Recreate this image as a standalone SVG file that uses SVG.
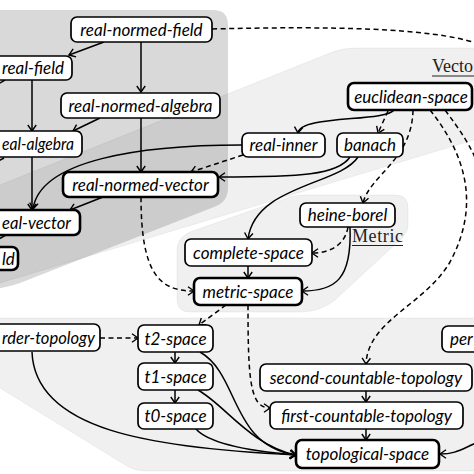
<svg xmlns="http://www.w3.org/2000/svg" width="474" height="474" viewBox="0 0 474 474">
<style>
.n{fill:#fff;stroke:#000;stroke-width:1.7}
.b{stroke-width:2.6}
.t{font-family:Lato,"Open Sans",sans-serif;font-style:italic;font-size:17px;fill:#000}
.c{text-anchor:middle}
.e{text-anchor:end}
.l{fill:none;stroke:#000;stroke-width:1.5;marker-end:url(#a)}
.d{stroke-dasharray:5 3.5}
.s{fill:none;stroke:#000;stroke-width:1.5}
.r{font-family:"Liberation Serif",serif;font-size:18px;fill:#222}
.u{stroke:#222;stroke-width:1}
</style>
<defs>
<marker id="a" markerUnits="userSpaceOnUse" orient="auto" refX="0" refY="0" markerWidth="14" markerHeight="14" viewBox="-8 -7 9 14" overflow="visible">
<path d="M-6,-4.2 Q-1.8,-1.2 0,0 Q-1.8,1.2 -6,4.2" fill="none" stroke="#000" stroke-width="1.4"/>
</marker>
</defs>
<g id="regions">
<path d="M-20,10 L213,10 Q228,10 228,25 L228,188 Q228,202 214,207 L20,283 Q0,290 -20,290 Z" fill="#000" fill-opacity="0.15"/>
<path d="M-20,193 L330,53 Q342,48 356,48 L490,48 L490,135 L-20,289 Z" fill="#000" fill-opacity="0.06" stroke="#000" stroke-opacity="0.05"/>
<path d="M177,250 Q177,238 190,232 L290,197 Q296,195 305,195 L395,195 Q408,195 408,208 L408,225 Q408,232 402,238 L335,300 Q320,312 300,312 L190,312 Q177,312 177,299 Z" fill="#000" fill-opacity="0.06" stroke="#000" stroke-opacity="0.05"/>
<path d="M-20,318 L490,318 L490,471 L145,471 Q135,471 127,466 L0,388 L-20,376 Z" fill="#000" fill-opacity="0.06" stroke="#000" stroke-opacity="0.05"/>
<text class="r" x="432" y="72">Vecto</text>
<line class="u" x1="432" y1="76" x2="474" y2="76"/>
<text class="r" x="352" y="242" textLength="51">Metric</text>
<line class="u" x1="352" y1="245.5" x2="403" y2="245.5"/>
</g>
<g id="connectors">
<path class="l" d="M104,42 L69,55"/>
<path class="l" d="M141,42 L141,92"/>
<path class="l" d="M32,80 L32,131"/>
<path class="l" d="M100,118 L73,131"/>
<path class="l" d="M141,118 L141,172"/>
<path class="l" d="M32,157 L32,210"/>
<path class="l" d="M103,197 L70,210"/>
<path class="l" d="M242,145 C140,145 40,160 33,209"/>
<path class="s d" d="M212,29 C330,26 430,28 476,43"/>
<path class="l" d="M394,110 C385,122 300,115 298,133"/>
<path class="l d" d="M388,111 L378,133"/>
<path class="l d" d="M413,110 C412,160 370,175 363,203"/>
<path class="l d" d="M430,110 C470,160 478,210 450,262 C425,305 368,320 366,364"/>
<path class="s d" d="M445,110 C460,130 470,145 476,160"/>
<path class="l" d="M358,157 C340,185 255,185 248,239"/>
<path class="l" d="M350,157 C338,175 300,177 219,177"/>
<path class="l d" d="M243,155 L191,172"/>
<path class="l" d="M248,266 L248,278"/>
<path class="l d" d="M348,227 C345,245 330,253 312,253"/>
<path class="l" d="M350,227 C352,280 335,291 302,291"/>
<path class="l d" d="M141,197 C141,275 160,291 194,291"/>
<path class="l d" d="M226,305 L199,325"/>
<path class="l d" d="M248,305 C248,380 250,408 270,408"/>
<path class="l d" d="M100,338 L138,338"/>
<path class="l" d="M175,352 L175,363"/>
<path class="l" d="M175,390 L175,403"/>
<path class="l" d="M32,352 C35,430 150,448 296,455"/>
<path class="l" d="M200,352 C240,375 230,445 296,455"/>
<path class="l" d="M198,390 C225,405 250,445 296,455"/>
<path class="l" d="M196,429 C210,445 260,452 296,455"/>
<path class="l" d="M366,391 L366,402"/>
<path class="l" d="M366,429 L366,440"/>
<path class="l" d="M476,443 C460,450 455,454 440,454"/>
<path class="s" d="M5,80 L-5,86"/>
<path class="s" d="M4,158 L-5,163"/>
<path class="s" d="M6,235 L-5,241"/>
</g>
<g id="real-normed-field"><rect class="n" x="71" y="17" width="141" height="25" rx="6"/><text class="t c" x="141.5" y="35.5">real-normed-field</text></g>
<g id="real-field"><rect class="n" x="-10" y="56" width="82" height="24" rx="6"/><text class="t" x="2" y="74" textLength="62" lengthAdjust="spacingAndGlyphs">real-field</text></g>
<g id="real-normed-algebra"><rect class="n" x="61" y="93" width="159" height="25" rx="6"/><text class="t c" x="140.5" y="111.5">real-normed-algebra</text></g>
<g id="real-algebra"><rect class="n" x="-10" y="131" width="92" height="26" rx="6"/><text class="t" x="2" y="150" textLength="72" lengthAdjust="spacingAndGlyphs">eal-algebra</text></g>
<g id="real-normed-vector"><rect class="n b" x="63" y="172" width="155" height="25" rx="6"/><text class="t c" x="140.5" y="190.5">real-normed-vector</text></g>
<g id="real-vector"><rect class="n b" x="-10" y="210" width="90" height="25" rx="6"/><text class="t" x="2" y="228.5" textLength="69" lengthAdjust="spacingAndGlyphs">eal-vector</text></g>
<g id="ld"><rect class="n b" x="-10" y="247" width="28" height="23" rx="6"/><text class="t" x="2" y="264.5">ld</text></g>
<g id="euclidean-space"><rect class="n b" x="348" y="83" width="124" height="27" rx="6"/><text class="t c" x="411" y="102.5">euclidean-space</text></g>
<g id="real-inner"><rect class="n" x="242" y="133" width="83" height="24" rx="6"/><text class="t c" x="283.5" y="151">real-inner</text></g>
<g id="banach"><rect class="n" x="337" y="133" width="66" height="24" rx="6"/><text class="t c" x="370" y="151">banach</text></g>
<g id="heine-borel"><rect class="n" x="300" y="203" width="95" height="24" rx="6"/><text class="t c" x="347.5" y="221">heine-borel</text></g>
<g id="complete-space"><rect class="n" x="185" y="239" width="127" height="27" rx="6"/><text class="t c" x="248.5" y="258.5">complete-space</text></g>
<g id="metric-space"><rect class="n b" x="194" y="278" width="108" height="27" rx="6"/><text class="t c" x="248" y="297.5">metric-space</text></g>
<g id="order-topology"><rect class="n" x="-10" y="324" width="110" height="27" rx="6"/><text class="t" x="2" y="343.5" textLength="93" lengthAdjust="spacingAndGlyphs">rder-topology</text></g>
<g id="t2-space"><rect class="n" x="138" y="325" width="75" height="27" rx="6"/><text class="t c" x="175.5" y="344.5">t2-space</text></g>
<g id="t1-space"><rect class="n" x="138" y="363" width="75" height="27" rx="6"/><text class="t c" x="175.5" y="382.5">t1-space</text></g>
<g id="t0-space"><rect class="n" x="138" y="403" width="75" height="26" rx="6"/><text class="t c" x="175.5" y="422">t0-space</text></g>
<g id="second-countable-topology"><rect class="n" x="260" y="364" width="212" height="27" rx="6"/><text class="t c" x="366" y="383.5">second-countable-topology</text></g>
<g id="first-countable-topology"><rect class="n" x="270" y="402" width="193" height="27" rx="6"/><text class="t c" x="366.5" y="421.5">first-countable-topology</text></g>
<g id="topological-space"><rect class="n b" x="296" y="440" width="143" height="28" rx="6"/><text class="t c" x="367.5" y="460">topological-space</text></g>
<g id="per"><rect class="n" x="442" y="326" width="50" height="26" rx="6"/><text class="t" x="450" y="345">per</text></g>
</svg>
